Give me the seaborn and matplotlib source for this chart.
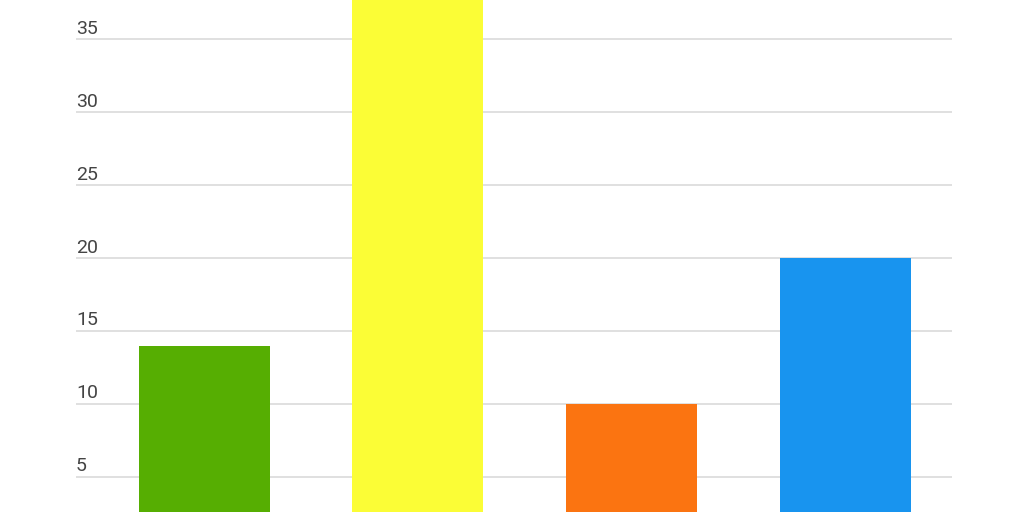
import matplotlib
matplotlib.use("Agg")
import matplotlib.pyplot as plt
import seaborn as sns
import pandas as pd

# chart data
categories = ["A", "B", "C", "D"]
values = [14, 40, 10, 20]
colors = ["#56ae02", "#fbfd36", "#fb7411", "#1894ef"]
ticks = [5, 10, 15, 20, 25, 30, 35]

df = pd.DataFrame({"cat": categories, "val": values})

sns.set_style("white")
plt.rcParams["font.family"] = ["Roboto", "DejaVu Sans"]

fig = plt.figure(figsize=(10.24, 5.12), dpi=100)
ax = fig.add_axes([76 / 1024, 0, (952 - 76) / 1024, 1])

sns.barplot(data=df, x="cat", y="val", hue="cat", palette=colors, saturation=1,
            width=0.613, linewidth=0, legend=False, ax=ax, zorder=3)

# gridlines and labels sitting above them
for t in ticks:
    ax.axhline(t, color="#dddddd", linewidth=1.3, zorder=1)
    ax.annotate(str(t), xy=(0, t), xycoords=("axes fraction", "data"),
                xytext=(0, 4), textcoords="offset points",
                ha="left", va="baseline", fontsize=14, color="#444444")

ax.set_xlim(-0.6, 3.5)
ax.set_ylim(2.58, 37.71)
ax.set_xticks([])
ax.set_yticks([])
ax.set_xlabel("")
ax.set_ylabel("")
for s in ax.spines.values():
    s.set_visible(False)

plt.savefig("out.png", dpi=100)
